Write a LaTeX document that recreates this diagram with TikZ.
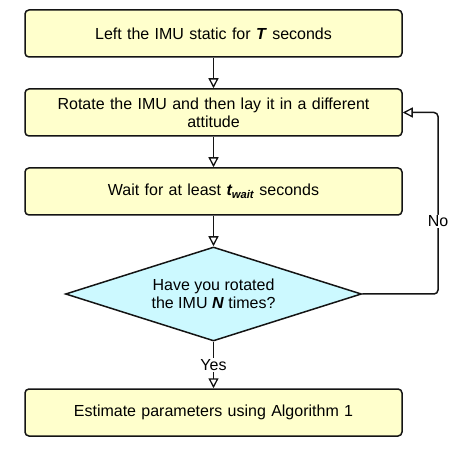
\documentclass[tikz,border=0pt]{standalone}
\usepackage{fontspec}
\setmainfont{Liberation Sans}
\usepackage{xcolor}
\usepackage{tikz}
\usetikzlibrary{shapes.geometric, arrows.meta, positioning}
\definecolor{IMUYellow}{RGB}{255, 255, 204}
\definecolor{IMUCyan}{RGB}{204, 249, 255}
\definecolor{IMULine}{RGB}{20, 20, 20}

\begin{document}
\begin{tikzpicture}[x=1pt, y=-1pt,
  stepbox/.style={draw=IMULine, fill=IMUYellow, line width=1.5pt, rounded corners=4pt,
    minimum width=377pt, minimum height=47pt, align=center, text width=350pt,
    font=\fontsize{16}{18}\selectfont},
  decision/.style={diamond, draw=IMULine, fill=IMUCyan, line width=1.5pt, aspect=3.15,
    inner sep=0pt, minimum width=296pt, minimum height=94pt, align=center,
    font=\fontsize{16}{18}\selectfont},
  arr/.style={draw=IMULine, line width=1.5pt,
    -{Triangle[open, width=10pt, length=10pt, line width=1.3pt]}},
  lbl/.style={fill=white, inner sep=1pt, font=\fontsize{16}{18}\selectfont}]
  \useasboundingbox (0,0) rectangle (474,462);
  % boxes
  \node[stepbox] (static) at (213.5,33.5) {Left the IMU static for \textbf{\textit{T}} seconds};
  \node[stepbox] (rotate) at (213.5,112.5) {Rotate the IMU and then lay it in a different\\attitude};
  \node[stepbox] (wait) at (213.5,191.5) {Wait for at least {\bfseries\itshape t\textsubscript{wait}} seconds};
  \node[decision] (check) at (213.5,294) {Have you rotated\\the IMU \textbf{\textit{N}} times?};
  \node[stepbox] (estimate) at (213.5,412.5) {Estimate parameters using Algorithm 1};
  \coordinate (loop) at (438,112.5);
  % connectors
  \draw[arr] (static) -- (rotate);
  \draw[arr] (rotate) -- (wait);
  \draw[arr] (wait) -- (check);
  \draw[arr] (check.south) -- node[lbl] {Yes} (estimate);
  \draw[arr, rounded corners=4pt] (check.east) -| node[lbl, pos=0.7] {No} (loop) -- (rotate.east);
\end{tikzpicture}
\end{document}
